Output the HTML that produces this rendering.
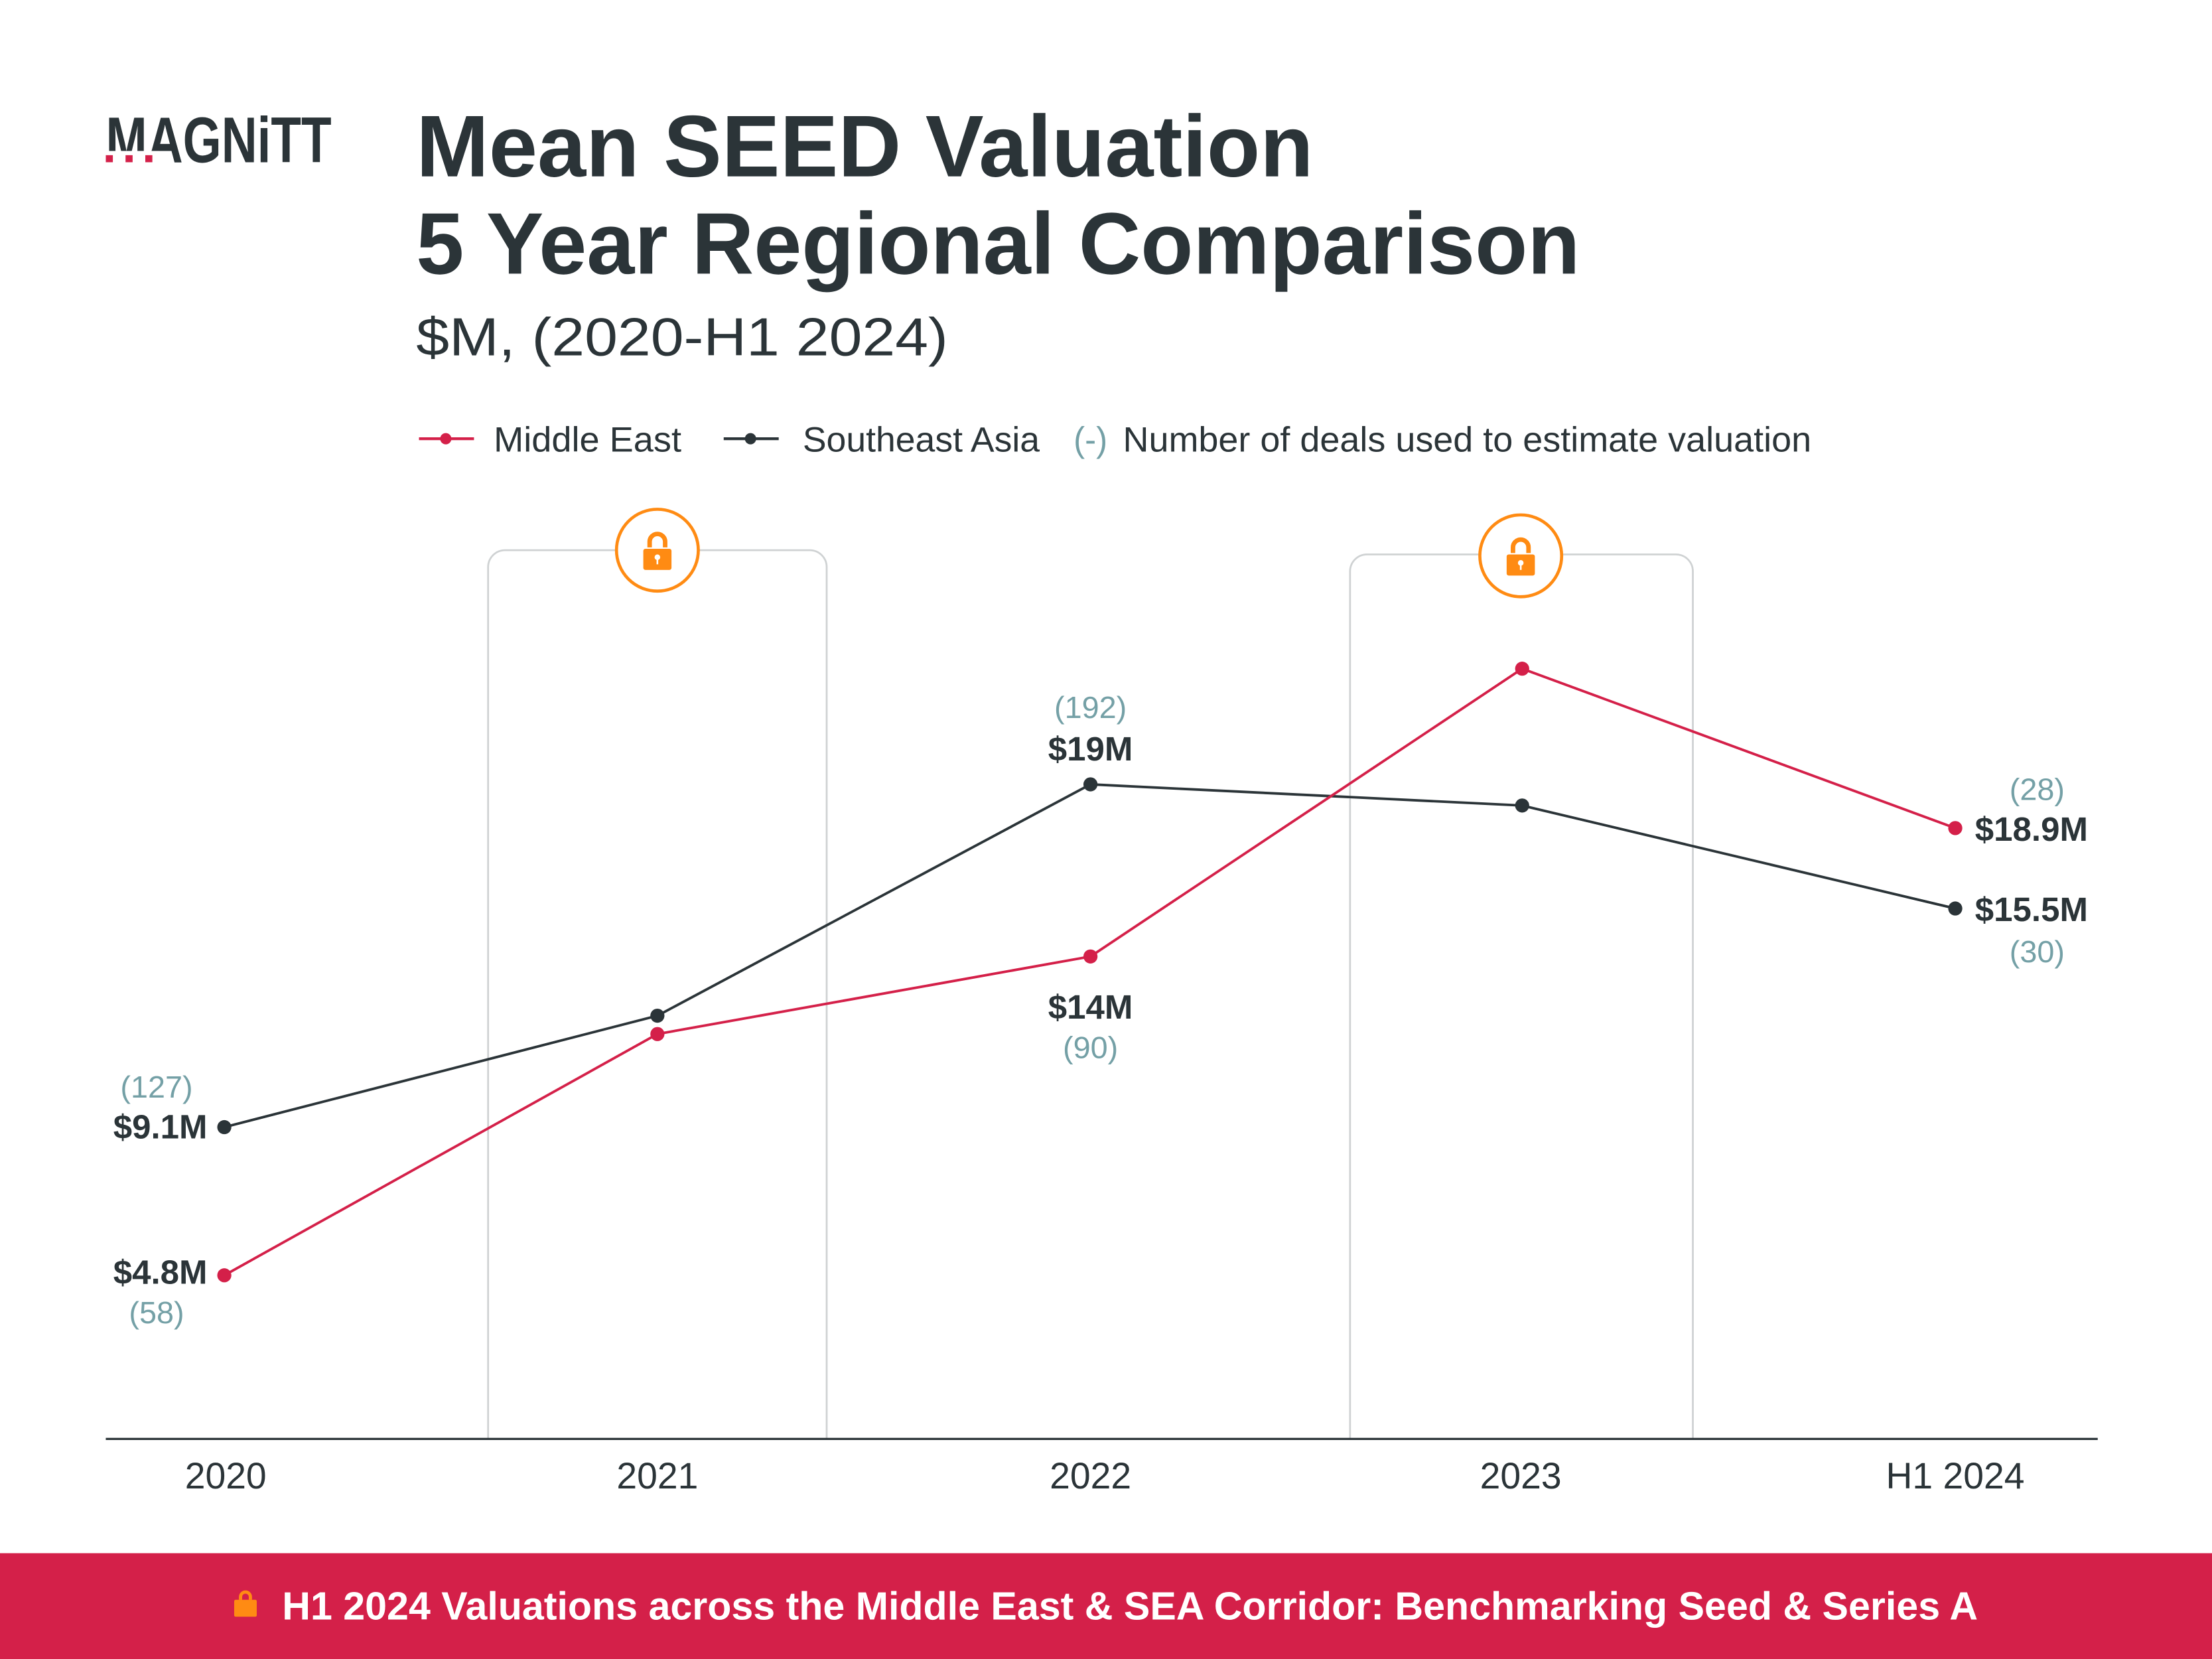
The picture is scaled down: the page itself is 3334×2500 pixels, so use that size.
<!DOCTYPE html>
<html><head><meta charset="utf-8"><style>html,body{margin:0;padding:0;background:#fff}svg{display:block}</style></head>
<body>
<svg width="3334" height="2500" viewBox="0 0 1568 1176" preserveAspectRatio="none" xmlns="http://www.w3.org/2000/svg" font-family="'Liberation Sans', sans-serif">
<rect width="1568" height="1176" fill="#fff"/>
<!-- logo -->
<text x="75" y="115" font-size="46" font-weight="bold" fill="#2b3438" textLength="160" lengthAdjust="spacingAndGlyphs">MAGNiTT</text>
<rect x="73" y="107" width="40" height="10" fill="#fff"/>
<g fill="#d42049"><rect x="75" y="110" width="5" height="5"/><rect x="89" y="110" width="5" height="5"/><rect x="103" y="110" width="5" height="5"/></g>
<!-- titles -->
<text x="295" y="125" font-size="62" font-weight="bold" fill="#2b3438" textLength="636" lengthAdjust="spacingAndGlyphs">Mean SEED Valuation</text>
<text x="295" y="194" font-size="62" font-weight="bold" fill="#2b3438" textLength="825" lengthAdjust="spacingAndGlyphs">5 Year Regional Comparison</text>
<text x="295" y="252" font-size="38" fill="#2b3438" textLength="377" lengthAdjust="spacingAndGlyphs">$M, (2020-H1 2024)</text>
<!-- legend -->
<line x1="297" y1="311" x2="336" y2="311" stroke="#d42049" stroke-width="2"/><circle cx="316" cy="311" r="4" fill="#d42049"/>
<text x="350" y="320" font-size="25" fill="#2b3438" textLength="133" lengthAdjust="spacingAndGlyphs">Middle East</text>
<line x1="513" y1="311" x2="552" y2="311" stroke="#2b3438" stroke-width="2"/><circle cx="532" cy="311" r="4" fill="#2b3438"/>
<text x="569" y="320" font-size="25" fill="#2b3438" textLength="168" lengthAdjust="spacingAndGlyphs">Southeast Asia</text>
<text x="761" y="320" font-size="25" fill="#74a0a6" textLength="24" lengthAdjust="spacingAndGlyphs">(-)</text>
<text x="796" y="320" font-size="25" fill="#2b3438" textLength="488" lengthAdjust="spacingAndGlyphs">Number of deals used to estimate valuation</text>
<!-- boxes -->
<path d="M346 1020 V402 a12 12 0 0 1 12 -12 H574 a12 12 0 0 1 12 12 V1020" fill="none" stroke="#cfd2d3" stroke-width="1.3"/>
<path d="M957 1020 V405 a12 12 0 0 1 12 -12 H1188 a12 12 0 0 1 12 12 V1020" fill="none" stroke="#cfd2d3" stroke-width="1.3"/>
<g id="lk">
<circle cx="466" cy="390" r="29" fill="#fff" stroke="#ff8b13" stroke-width="2.2"/>
<path d="M460.5 388 v-4 a5.5 5.5 0 0 1 11 0 v4" fill="none" stroke="#ff8b13" stroke-width="3.2"/>
<rect x="456" y="389" width="20" height="15" rx="1.5" fill="#ff8b13"/>
<circle cx="466" cy="395" r="2" fill="#fff"/><rect x="465.4" y="395" width="1.2" height="5" fill="#fff"/>
</g>
<use href="#lk" transform="translate(612,4)"/>
<!-- axis -->
<line x1="75" y1="1020" x2="1487" y2="1020" stroke="#2b3438" stroke-width="1.5"/>
<g font-size="26" fill="#2b3438" text-anchor="middle">
<text x="160" y="1055">2020</text><text x="466" y="1055">2021</text><text x="773" y="1055">2022</text><text x="1078" y="1055">2023</text><text x="1386" y="1055">H1 2024</text>
</g>
<!-- series -->
<polyline points="159,799 466,720 773,556 1079,571 1386,644" fill="none" stroke="#2b3438" stroke-width="1.8"/>
<polyline points="159,904 466,733 773,678 1079,474 1386,587" fill="none" stroke="#d42049" stroke-width="1.8"/>
<g fill="#2b3438"><circle cx="159" cy="799" r="5"/><circle cx="466" cy="720" r="5"/><circle cx="773" cy="556" r="5"/><circle cx="1079" cy="571" r="5"/><circle cx="1386" cy="644" r="5"/></g>
<g fill="#d42049"><circle cx="159" cy="904" r="5"/><circle cx="466" cy="733" r="5"/><circle cx="773" cy="678" r="5"/><circle cx="1079" cy="474" r="5"/><circle cx="1386" cy="587" r="5"/></g>
<!-- labels -->
<g font-size="24" font-weight="bold" fill="#2b3438">
<text x="147" y="807" text-anchor="end">$9.1M</text>
<text x="147" y="910" text-anchor="end">$4.8M</text>
<text x="773" y="539" text-anchor="middle">$19M</text>
<text x="773" y="722" text-anchor="middle">$14M</text>
<text x="1400" y="596">$18.9M</text>
<text x="1400" y="653">$15.5M</text>
</g>
<g font-size="22" fill="#74a0a6" text-anchor="middle">
<text x="111" y="778">(127)</text>
<text x="111" y="938">(58)</text>
<text x="773" y="509">(192)</text>
<text x="773" y="750">(90)</text>
<text x="1444" y="567">(28)</text>
<text x="1444" y="682">(30)</text>
</g>
<!-- footer -->
<rect x="0" y="1101" width="1568" height="75" fill="#d42049"/>
<path d="M170.5 1134 v-2 a3.5 3.5 0 0 1 7 0 v2" fill="none" stroke="#ff8b13" stroke-width="2.3"/>
<rect x="166" y="1134" width="16" height="12" rx="1" fill="#ff8b13"/>
<text x="200" y="1148" font-size="28" font-weight="bold" fill="#fff" textLength="1202" lengthAdjust="spacingAndGlyphs">H1 2024 Valuations across the Middle East &amp; SEA Corridor:  Benchmarking Seed &amp; Series A</text>
</svg>
</body></html>
